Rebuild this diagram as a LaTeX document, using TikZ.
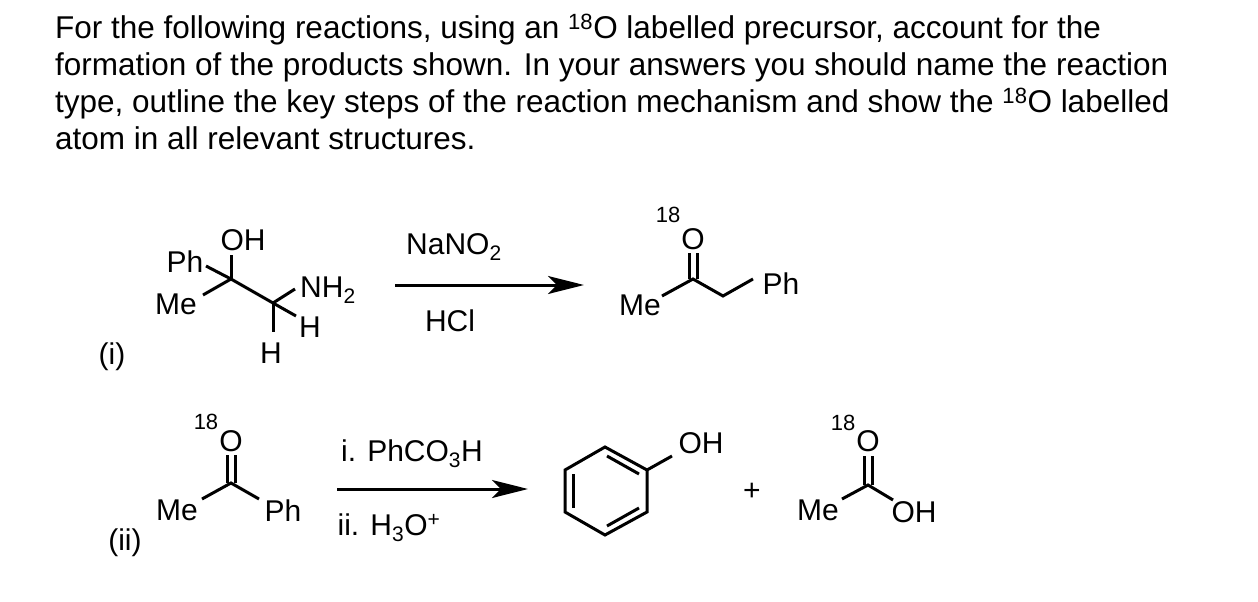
\documentclass[tikz,border=0pt]{standalone}
\usepackage{fontspec}
\setmainfont{Liberation Sans}
\usetikzlibrary{arrows.meta}
\begin{document}
\begin{tikzpicture}[x=1pt,y=-1pt,
  lbl/.style={inner sep=0pt,font=\fontsize{30}{34}\selectfont},
  iso/.style={inner sep=0pt,font=\fontsize{22}{24}\selectfont},
  bd/.style={line width=3pt},
  arr/.style={line width=3pt,-{Stealth[length=36pt,width=18pt,inset=9pt]}}]
\useasboundingbox (0,0) rectangle (1258,602);
\node[anchor=north west,inner sep=0pt,align=left,font=\fontsize{31.5}{37}\selectfont] (para) at (55,14)
{For the following reactions, using an \textsuperscript{18}O labelled precursor, account for the\\
formation of the products shown. In your answers you should name the reaction\\
type, outline the key steps of the reaction mechanism and show the \textsuperscript{18}O labelled\\
atom in all relevant structures.};
% (i) reactant
\coordinate (c1) at (231,279);
\coordinate (c2) at (273,303);
\node[lbl] (oh1) at (243,240) {OH};
\node[lbl] (ph1) at (185,262) {Ph};
\node[lbl] (me1) at (176,304) {Me};
\node[lbl] (nh2) at (328,290) {NH\textsubscript{2}};
\node[lbl] (h1) at (310,327) {H};
\node[lbl] (h2) at (271,353) {H};
\draw[bd] (c1) -- (231,255);
\draw[bd] (c1) -- (206,266);
\draw[bd] (c1) -- (203,295);
\draw[bd] (c1) -- (c2);
\draw[bd] (c2) -- (295,289);
\draw[bd] (c2) -- (296,316);
\draw[bd] (c2) -- (273,332);
\coordinate (a1s) at (395,285); \coordinate (a1e) at (584,285);
\draw[arr] (a1s) -- (a1e);
\node[lbl] (r1) at (454,247) {NaNO\textsubscript{2}};
\node[lbl] (r2) at (450,321) {HCl};
% (i) product
\node[lbl] (o2) at (693,239) {O};
\node[iso] (l18a) at (668,215) {18};
\node[lbl] (me2) at (640,305) {Me};
\node[lbl] (ph2) at (781,284) {Ph};
\coordinate (c3) at (693,279);
\draw[bd] (689,279) -- (689,253); \draw[bd] (697,279) -- (697,253);
\draw[bd] (662,296) -- (c3) -- (723,296) -- (753,279);
\node[lbl] (i1) at (112,357) {(i)};
% (ii) reactant
\node[lbl] (o3) at (231,441) {O};
\node[iso] (l18b) at (206,422) {18};
\node[lbl] (me3) at (177,510) {Me};
\node[lbl] (ph3) at (283,511) {Ph};
\draw[bd] (227,483) -- (227,455); \draw[bd] (235,483) -- (235,455);
\draw[bd] (202,499) -- (231,483) -- (259,499);
\coordinate (a2s) at (337,489); \coordinate (a2e) at (528,489);
\draw[arr] (a2s) -- (a2e);
\node[lbl] (r3) at (412,454) {i. PhCO\textsubscript{3}H};
\node[lbl] (r4) at (389,528) {ii. H\textsubscript{3}O\textsuperscript{+}};
\node[lbl] (i2) at (125,543) {(ii)};
% phenol
\draw[bd,line join=miter] (605,447) -- (647,470) -- (647,512) -- (605,535) -- (565,512) -- (565,470) -- cycle;
\draw[bd] (607,456) -- (639,474);
\draw[bd] (639,508) -- (607,526);
\draw[bd] (573,474) -- (573,508);
\draw[bd] (647,470) -- (672,456);
\node[lbl] (oh4) at (701,443) {OH};
\node[lbl] (plus) at (752,492) {+};
% acetic acid
\node[lbl] (o5) at (868,441) {O};
\node[iso] (l18c) at (843,423) {18};
\node[lbl] (me5) at (818,510) {Me};
\node[lbl] (oh5) at (914,512) {OH};
\draw[bd] (864,485) -- (864,456); \draw[bd] (872,485) -- (872,456);
\draw[bd] (842,499) -- (868,485) -- (893,500);
\end{tikzpicture}
\end{document}
